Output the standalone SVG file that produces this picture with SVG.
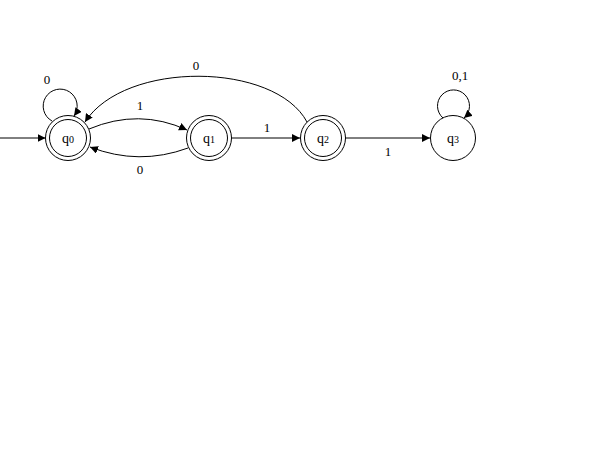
<svg xmlns="http://www.w3.org/2000/svg" width="600" height="450" viewBox="0 0 600 450">
<style>
.st{fill:none;stroke:#000;stroke-width:1}
.e{fill:none;stroke:#000;stroke-width:1;marker-end:url(#ah)}
.t{font-family:"Liberation Serif",serif;font-size:13px;fill:#000;text-anchor:middle}
.q{font-size:14px}
.s{font-size:10px}
</style>
<defs>
<marker id="ah" markerWidth="8" markerHeight="8" refX="8" refY="4" orient="auto" markerUnits="userSpaceOnUse">
<path d="M0,0 L8,4 L0,8 z" fill="#000"/>
</marker>
</defs>
<rect width="600" height="450" fill="#fff"/>
<g id="connectors">
<path class="e" d="M0,138 L45.5,138"/>
<path class="e" d="M52,121 A17,17 0 1 1 74,116"/>
<path class="e" d="M89,129 Q139,108 187,130"/>
<path class="e" d="M188,148 Q139,166 90,147"/>
<path class="e" d="M231.5,138 L300,138"/>
<path class="e" d="M345.5,138 L430,138"/>
<path class="e" d="M307,122 C275,62 125,60 85,122"/>
<path class="e" d="M443,118 A16,16 0 1 1 464,118"/>
<text class="t" x="47" y="84">0</text>
<text class="t" x="140" y="110">1</text>
<text class="t" x="140" y="174">0</text>
<text class="t" x="267" y="132">1</text>
<text class="t" x="388" y="156">1</text>
<text class="t" x="196" y="70">0</text>
<text class="t" x="460" y="80">0,1</text>
</g>
<g id="q0">
<circle class="st" cx="68" cy="138" r="22.5"/>
<circle class="st" cx="68" cy="138" r="18.5"/>
<text class="t q" x="68" y="143">q<tspan class="s">0</tspan></text>
</g>
<g id="q1">
<circle class="st" cx="209" cy="138" r="22.5"/>
<circle class="st" cx="209" cy="138" r="18.5"/>
<text class="t q" x="209" y="143">q<tspan class="s">1</tspan></text>
</g>
<g id="q2">
<circle class="st" cx="323" cy="138" r="22.5"/>
<circle class="st" cx="323" cy="138" r="18.5"/>
<text class="t q" x="323" y="143">q<tspan class="s">2</tspan></text>
</g>
<g id="q3">
<circle class="st" cx="453" cy="138" r="22.5"/>
<text class="t q" x="453" y="143">q<tspan class="s">3</tspan></text>
</g>
</svg>
